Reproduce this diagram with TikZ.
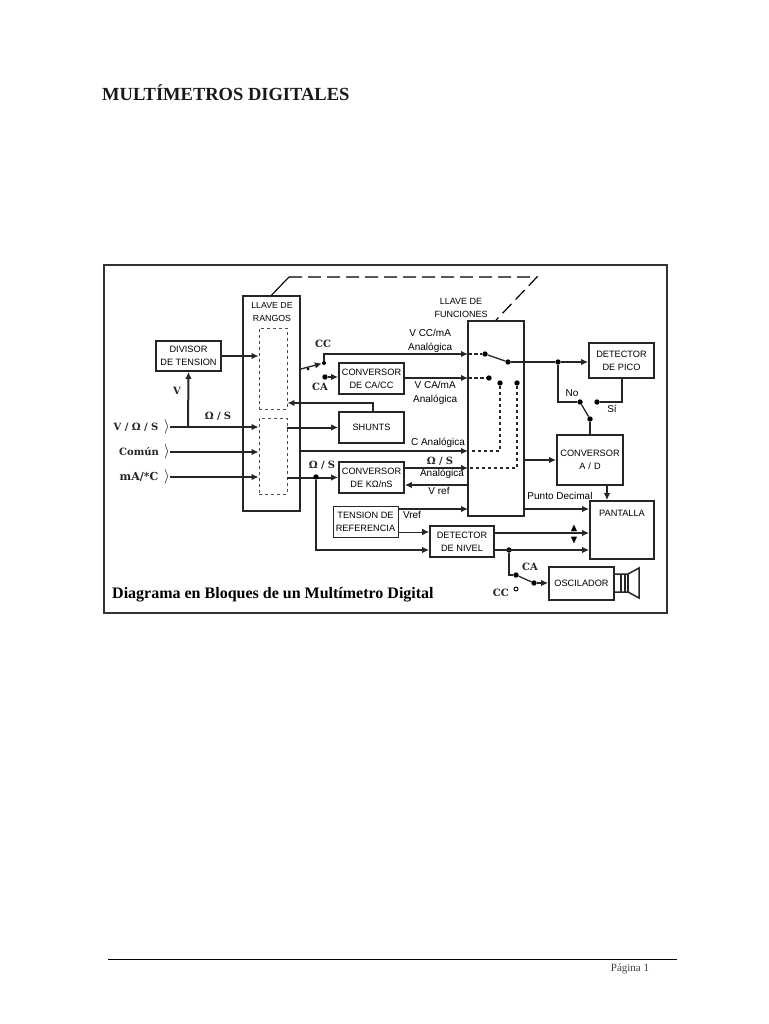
\documentclass[tikz,border=0pt]{standalone}
\usepackage{amssymb}
\usepackage{fontspec}
\setmainfont{Liberation Serif}
\setsansfont{Liberation Sans}
\newfontfamily\termfont{DejaVu Serif}
\usetikzlibrary{arrows.meta,calc,positioning}
\tikzset{
  caja/.style 2 args={draw=black!85,line width=1.7pt,align=center,inner sep=0pt,minimum width=#1pt,minimum height=#2pt,font=\sffamily\fontsize{9.2}{13}\selectfont},
  txt/.style={inner sep=0pt,align=center,font=\sffamily\fontsize{10}{14}\selectfont},
  term/.style={inner sep=0pt,font=\termfont\bfseries\fontsize{10}{11}\selectfont,black!85},
  borne/.style={inner sep=0pt,font=\fontsize{14}{14}\selectfont},
  punto/.style={circle,fill=black,inner sep=0pt,minimum size=5.4pt},
  linea/.style={line width=2pt,black!85},
  flecha/.style={line width=2pt,black!85,-{Latex[length=7pt,width=6.5pt]}},
  trazo/.style={line width=2pt,black!85,dash pattern=on 3.5pt off 2.5pt},
  rango/.style 2 args={draw=black!70,line width=0.8pt,dashed,minimum width=#1pt,minimum height=#2pt,inner sep=0pt},
}
\begin{document}
\begin{tikzpicture}[x=1pt,y=-1pt]
\useasboundingbox (0,0) rectangle (768,1024);
%Titulo y pie
\node[inner sep=0pt,anchor=west,font=\bfseries\fontsize{18.5}{20}\selectfont,black!90] (titulo) at (102,93) {MULTÍMETROS DIGITALES};
\node[inner sep=0pt,font=\fontsize{11}{12}\selectfont,black!75] (pagina) at (630,969) {Página 1};
\draw[line width=0.9pt] (108,959) -- (677,959);
%Marco
\draw[line width=1.8pt,black!80] (104,265) rectangle (667,613);
\node[inner sep=0pt,anchor=west,font=\bfseries\fontsize{16}{18}\selectfont] (leyenda) at (112,595) {Diagrama en Bloques de un Multímetro Digital};
%Llaves
\node[caja={57}{215}] (llaveR) at (271.5,403.5) {};
\node[caja={56}{195}] (llaveF) at (496,418.5) {};
\node[txt,font=\sffamily\fontsize{8.8}{13.5}\selectfont] (tllaveR) at (272,312) {LLAVE DE\\RANGOS};
\node[txt,font=\sffamily\fontsize{9}{13}\selectfont] (tllaveF) at (461,307.5) {LLAVE DE\\FUNCIONES};
\node[rango={28}{81}] (rangoA) at (273,368.5) {};
\node[rango={28}{76}] (rangoB) at (273,456) {};
%Eje mecanico
\coordinate (mecA) at (289,277);
\coordinate (mecB) at (537,277);
\draw[line width=1.1pt] (llaveR.north) -- (mecA);
\draw[line width=1.2pt,dash pattern=on 13pt off 6pt] (mecA) -- (mecB) -- (llaveF.north);
%Bloques
\node[caja={65}{30}] (divisor) at (188.5,356) {DIVISOR\\DE TENSION};
\node[caja={65}{31}] (convCA) at (371.5,378.5) {CONVERSOR\\DE CA/CC};
\node[caja={65}{31}] (shunts) at (371.5,427.5) {SHUNTS};
\node[caja={65}{31}] (convK) at (371.5,477.5) {CONVERSOR\\DE KΩ/nS};
\node[caja={65}{31},line width=0.9pt] (tension) at (365.5,521.5) {TENSION DE\\REFERENCIA};
\node[caja={64}{31}] (nivel) at (462,541.5) {DETECTOR\\DE NIVEL};
\node[caja={65}{35}] (pico) at (621.5,360.5) {DETECTOR\\DE PICO};
\node[caja={66}{50}] (convAD) at (590,460) {CONVERSOR\\A\,\,/\,\,D};
\node[caja={64}{58},text depth=34pt] (pantalla) at (622,530) {PANTALLA};
\node[caja={65}{33}] (oscilador) at (581.5,583.5) {OSCILADOR};
%Parlante
\draw[line width=1.5pt,black!85] (oscilador.east |- 0,574) -- (628,574) -- (639,568) -- (639,598) -- (628,592) -- (oscilador.east |- 0,592);
\draw[line width=1.5pt,black!85] (621,574) -- (621,592) (625,574) -- (625,592) (628,574) -- (628,592);
%Entradas
\node[term] (tV) at (136,427) {V\,\,/\,\,Ω\,\,/\,\,S};
\node[term] (tC) at (139,452) {Común};
\node[term,font=\termfont\bfseries\fontsize{11}{11}\selectfont] (tA) at (139,477) {mA/*C};
\node[borne] (bV) at (167,427) {$\rangle$};
\node[borne] (bC) at (bV |- tC) {$\rangle$};
\node[borne] (bA) at (bV |- tA) {$\rangle$};
\coordinate (jV) at (188,427);
\foreach \n in {V,C,A}{
\draw[flecha] (b\n.east) -- (b\n.east -| rangoB.west);
}
\draw[flecha] (jV) -- (divisor.south);
\draw[flecha] (divisor.east) -- (divisor.east -| rangoA.west);
\node[term] (tv2) at (177,391) {V};
\node[term] (tos1) at (218,416) {Ω\,\,/\,\,S};
%Derivacion shunts y conversor K
\draw[flecha] (rangoB.east |- shunts.west) -- (shunts.west);
\coordinate (retS) at (373,403);
\draw[flecha] (shunts.north -| retS) -- (retS) -- (retS -| rangoA.east);
\draw[flecha] (rangoB.east |- convK.west) -- (convK.west);
\node[punto] (dK) at (316,477) {};
\coordinate (bajaK) at (316,550);
\draw[flecha] (dK) -- (bajaK) -- (bajaK -| nivel.west);
\node[term] (tos2) at (322,465) {Ω\,\,/\,\,S};
%Puertos de la llave de funciones
\coordinate (fCC) at (468,354);
\coordinate (fCA) at (468,378);
\coordinate (fC) at (468,451);
\coordinate (fO) at (468,468);
\coordinate (fV) at (468,485);
\coordinate (fT) at (468,509);
%Llave CC/CA
\node[punto,minimum size=3pt] (dS0) at (308,369) {};
\node[punto,minimum size=4pt] (dCC) at (324,363) {};
\node[punto] (dCA) at (325,377) {};
\coordinate (sube) at (324,354);
\draw[flecha,line width=1.3pt] (llaveR.east |- dS0) -- (dCC);
\draw[flecha] (dCC) -- (sube) -- (fCC);
\draw[flecha] (dCA) -- (convCA.west |- dCA);
\draw[flecha] (convCA.east |- fCA) -- (fCA);
\node[term] (tcc) at (323,344) {CC};
\node[term] (tca) at (320,387) {CA};
\node[txt,anchor=west] (tvcc) at (408,341) {V CC/mA\\Analógica};
\node[txt,anchor=west] (tvca) at (413,393) {V CA/mA\\Analógica};
\node[txt] (tcan) at (438,443) {C Analógica};
\node[term] (tos3) at (440,461) {Ω\,\,/\,\,S};
\node[txt] (tos4) at (442,474) {Analógica};
\node[txt] (tvr1) at (439,491) {V ref};
\node[txt] (tvr2) at (412,515) {Vref};
\draw[flecha] (llaveR.east |- fC) -- (fC);
\draw[flecha] (convK.east |- fO) -- (fO);
\draw[flecha] (fV) -- (convK.east |- fV);
\draw[flecha] (tension.east |- fT) -- (fT);
\coordinate (tS) at (398,532);
\draw[flecha,line width=0.9pt] (tS) -- (tS -| nivel.west);
%Contactos de la llave de funciones
\node[punto] (c1) at (485,354) {};
\node[punto] (c2) at (489,378) {};
\node[punto] (c3) at (500,383) {};
\node[punto] (c4) at (517,383) {};
\node[punto] (cm) at (508,362) {};
\draw[trazo] (fCC) -- (c1);
\draw[trazo] (fCA) -- (c2);
\draw[trazo] (c3) -- (c3 |- fC) -- (fC);
\draw[trazo] (c4) -- (c4 |- fO) -- (fO);
\draw[linea,line width=1.3pt] (c1) -- (cm);
\node[punto] (dP) at (558,362) {};
\draw[linea] (cm) -- (dP);
\draw[flecha] (dP) -- (pico.west |- dP);
%Pico a conversor
\node[punto] (no) at (580,402) {};
\node[punto] (si) at (597,402) {};
\node[punto] (cAD) at (590,419) {};
\draw[linea] (dP) |- (no);
\draw[linea] (si) -| (pico.south);
\draw[linea,line width=1.3pt] (no) -- (cAD);
\draw[linea] (cAD) -- (cAD |- convAD.north);
\node[txt] (tno) at (572,393) {No};
\node[txt] (tsi) at (612,409) {Sí};
%Salidas
\draw[flecha] (llaveF.east |- convAD.west) -- (convAD.west);
\coordinate (bAD) at (607,485);
\draw[flecha] (bAD) -- (bAD |- pantalla.north);
\draw[flecha] (llaveF.east |- fT) -- (pantalla.west |- fT);
\node[txt] (tpd) at (560,496) {Punto Decimal};
\coordinate (sN1) at (494,533);
\coordinate (sN2) at (494,550);
\draw[flecha] (sN1) -- (pantalla.west |- sN1);
\node[punto] (dN) at (509,550) {};
\draw[flecha] (sN2) -- (pantalla.west |- sN2);
\node[punto] (dO1) at (516,575) {};
\node[punto] (dO2) at (534,583) {};
\draw[linea] (dN) |- (dO1);
\draw[linea,line width=1.3pt] (dO1) -- (dO2);
\draw[flecha] (dO2) -- (oscilador.west |- dO2);
\node[term] (tca2) at (530,567) {CA};
\node[term,anchor=east] (tcc2) at (509,593) {CC};
\node[circle,draw,line width=0.9pt,inner sep=0pt,minimum size=4pt] (dO3) at (516,589) {};
\node[inner sep=0pt,font=\fontsize{11}{11}\selectfont] (up) at (574,528) {$\blacktriangle$};
\node[inner sep=0pt,font=\fontsize{11}{11}\selectfont] (down) at (574,540) {$\blacktriangledown$};
\end{tikzpicture}
\end{document}
